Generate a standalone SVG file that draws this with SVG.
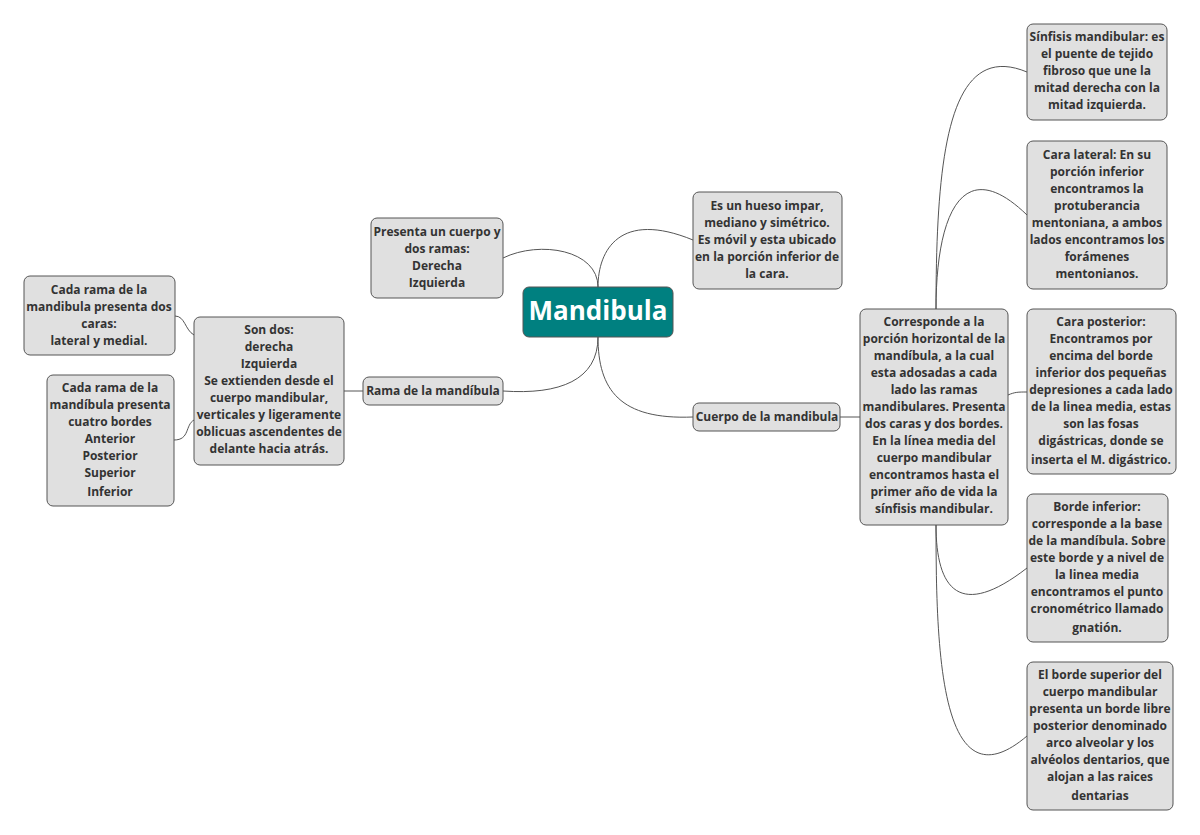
<svg xmlns="http://www.w3.org/2000/svg" width="1200" height="835" viewBox="0 0 1200 835">
<style>
.b{fill:#e0e0e0;stroke:#555;stroke-width:1}
.t{font-family:"Open Sans","Liberation Sans",sans-serif;font-weight:bold;font-size:12px;fill:#333;text-anchor:middle}
.c{fill:none;stroke:#555;stroke-width:1}
</style>
<rect width="1200" height="835" fill="#fff"/>
<g id="connectors">
<path class="c" d="M598,287 C598,250 540,240 503,258"/>
<path class="c" d="M598,287 C598,250 620,210 693,240"/>
<path class="c" d="M598,337 C598,380 560,395 503,391"/>
<path class="c" d="M598,337 C598,390 620,420 693,417"/>
<path class="c" d="M363,391 L344,391"/>
<path class="c" d="M194,335 C185,330 185,316 175,316"/>
<path class="c" d="M194,420 C185,425 190,440 174,440"/>
<path class="c" d="M840,417 L860,417"/>
<path class="c" d="M936,309 C936,150 950,40 1027,72"/>
<path class="c" d="M936,309 C936,220 960,150 1027,215"/>
<path class="c" d="M1008,395 C1015,392 1018,392 1027,392"/>
<path class="c" d="M936,525 C936,590 960,620 1027,568"/>
<path class="c" d="M936,525 C936,650 940,810 1027,736"/>
</g>
<g id="center"><rect x="523" y="287" width="150" height="50" rx="6" fill="#008080" stroke="#555"/><text x="598" y="320" font-family="'Open Sans','Liberation Sans',sans-serif" font-weight="bold" font-size="26" fill="#fff" text-anchor="middle">Mandibula</text></g>
<g id="n1"><rect class="b" x="371" y="218" width="132" height="80" rx="6"/><text class="t"><tspan x="437" y="236">Presenta un cuerpo y</tspan><tspan x="437" y="253">dos ramas:</tspan><tspan x="437" y="270">Derecha</tspan><tspan x="437" y="287">Izquierda</tspan></text></g>
<g id="n2"><rect class="b" x="693" y="192" width="149" height="97" rx="6"/><text class="t"><tspan x="767" y="210">Es un hueso impar,</tspan><tspan x="767" y="227">mediano y simétrico.</tspan><tspan x="767" y="244">Es móvil y esta ubicado</tspan><tspan x="767" y="261">en la porción inferior de</tspan><tspan x="767" y="278">la cara.</tspan></text></g>
<g id="n3"><rect class="b" x="363" y="377" width="140" height="28" rx="6"/><text class="t" x="433" y="395">Rama de la mandíbula</text></g>
<g id="n4"><rect class="b" x="693" y="403" width="147" height="28" rx="6"/><text class="t" x="767" y="421">Cuerpo de la mandibula</text></g>
<g id="n5"><rect class="b" x="194" y="317" width="150" height="148" rx="6"/><text class="t"><tspan x="269" y="334">Son dos:</tspan><tspan x="269" y="351">derecha</tspan><tspan x="269" y="368">Izquierda</tspan><tspan x="269" y="385">Se extienden desde el</tspan><tspan x="269" y="402">cuerpo mandibular,</tspan><tspan x="269" y="419">verticales y ligeramente</tspan><tspan x="269" y="436">oblicuas ascendentes de</tspan><tspan x="269" y="453">delante hacia atrás.</tspan></text></g>
<g id="n6"><rect class="b" x="24" y="276" width="151" height="79" rx="6"/><text class="t"><tspan x="99" y="294">Cada rama de la</tspan><tspan x="99" y="311">mandibula presenta dos</tspan><tspan x="99" y="328">caras:</tspan><tspan x="99" y="345">lateral y medial.</tspan></text></g>
<g id="n7"><rect class="b" x="47" y="375" width="127" height="131" rx="6"/><text class="t"><tspan x="110" y="392">Cada rama de la</tspan><tspan x="110" y="409">mandíbula presenta</tspan><tspan x="110" y="426">cuatro bordes</tspan><tspan x="110" y="443">Anterior</tspan><tspan x="110" y="460">Posterior</tspan><tspan x="110" y="477">Superior</tspan><tspan x="110" y="496">Inferior</tspan></text></g>
<g id="n8"><rect class="b" x="860" y="309" width="148" height="216" rx="6"/><text class="t"><tspan x="934" y="326">Corresponde a la</tspan><tspan x="934" y="343">porción horizontal de la</tspan><tspan x="934" y="360">mandíbula, a la cual</tspan><tspan x="934" y="377">esta adosadas a cada</tspan><tspan x="934" y="394">lado las ramas</tspan><tspan x="934" y="411">mandibulares. Presenta</tspan><tspan x="934" y="428">dos caras y dos bordes.</tspan><tspan x="934" y="445">En la línea media del</tspan><tspan x="934" y="462">cuerpo mandibular</tspan><tspan x="934" y="479">encontramos hasta el</tspan><tspan x="934" y="496">primer año de vida la</tspan><tspan x="934" y="513">sínfisis mandibular.</tspan></text></g>
<g id="n9"><rect class="b" x="1027" y="24" width="140" height="96" rx="6"/><text class="t"><tspan x="1097" y="41">Sínfisis mandibular: es</tspan><tspan x="1097" y="58">el puente de tejido</tspan><tspan x="1097" y="75">fibroso que une la</tspan><tspan x="1097" y="92">mitad derecha con la</tspan><tspan x="1097" y="109">mitad izquierda.</tspan></text></g>
<g id="n10"><rect class="b" x="1027" y="141" width="140" height="148" rx="6"/><text class="t"><tspan x="1097" y="159">Cara lateral: En su</tspan><tspan x="1097" y="176">porción inferior</tspan><tspan x="1097" y="193">encontramos la</tspan><tspan x="1097" y="210">protuberancia</tspan><tspan x="1097" y="227">mentoniana, a ambos</tspan><tspan x="1097" y="244">lados encontramos los</tspan><tspan x="1097" y="261">forámenes</tspan><tspan x="1097" y="278">mentonianos.</tspan></text></g>
<g id="n11"><rect class="b" x="1027" y="309" width="149" height="165" rx="6"/><text class="t"><tspan x="1101" y="326">Cara posterior:</tspan><tspan x="1101" y="343">Encontramos por</tspan><tspan x="1101" y="360">encima del borde</tspan><tspan x="1101" y="377">inferior dos pequeñas</tspan><tspan x="1101" y="394">depresiones a cada lado</tspan><tspan x="1101" y="411">de la linea media, estas</tspan><tspan x="1101" y="428">son las fosas</tspan><tspan x="1101" y="445">digástricas, donde se</tspan><tspan x="1101" y="464">inserta el M. digástrico.</tspan></text></g>
<g id="n12"><rect class="b" x="1027" y="494" width="141" height="148" rx="6"/><text class="t"><tspan x="1097" y="511">Borde inferior:</tspan><tspan x="1097" y="528">corresponde a la base</tspan><tspan x="1097" y="545">de la mandíbula. Sobre</tspan><tspan x="1097" y="562">este borde y a nivel de</tspan><tspan x="1097" y="579">la linea media</tspan><tspan x="1097" y="596">encontramos el punto</tspan><tspan x="1097" y="613">cronométrico llamado</tspan><tspan x="1097" y="632">gnatión.</tspan></text></g>
<g id="n13"><rect class="b" x="1027" y="662" width="146" height="148" rx="6"/><text class="t"><tspan x="1100" y="679">El borde superior del</tspan><tspan x="1100" y="696">cuerpo mandibular</tspan><tspan x="1100" y="713">presenta un borde libre</tspan><tspan x="1100" y="730">posterior denominado</tspan><tspan x="1100" y="747">arco alveolar y los</tspan><tspan x="1100" y="764">alvéolos dentarios, que</tspan><tspan x="1100" y="781">alojan a las raices</tspan><tspan x="1100" y="800">dentarias</tspan></text></g>
</svg>
